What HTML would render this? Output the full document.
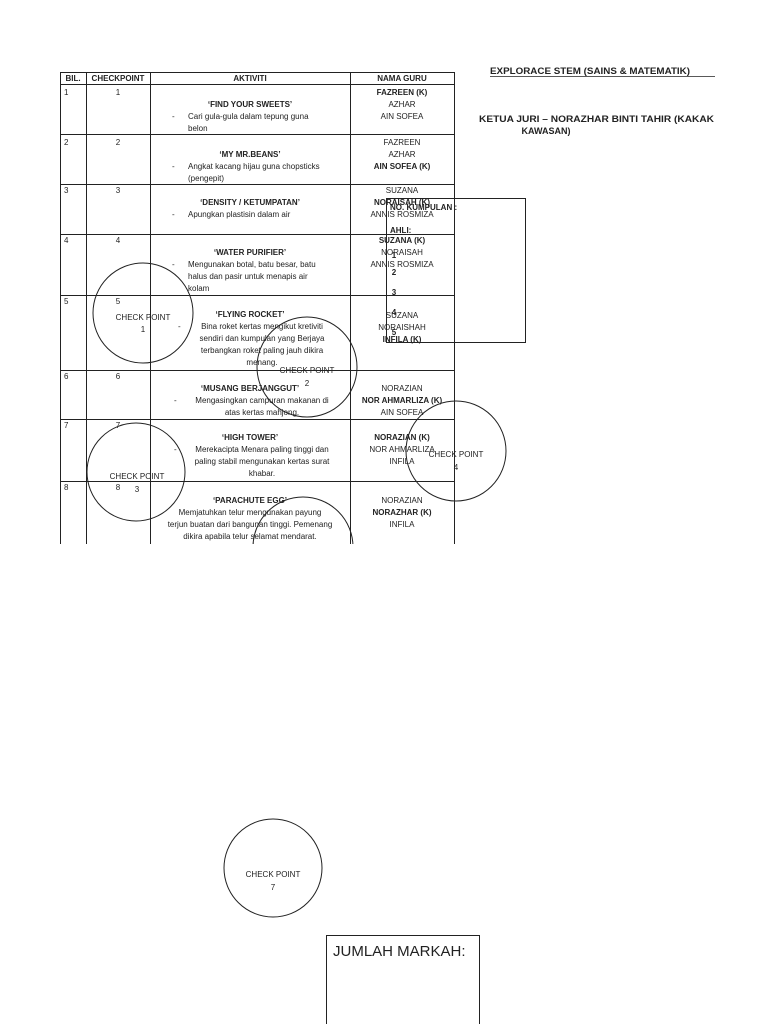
<!DOCTYPE html>
<html><head><meta charset="utf-8"><style>
html,body{margin:0;padding:0;background:#fff;}
svg{display:block;}
text{font-family:"Liberation Sans",sans-serif;font-size:8px;fill:#222;}
.b{font-weight:bold;}
</style></head><body>
<svg width="768" height="1024" viewBox="0 0 768 1024" xmlns="http://www.w3.org/2000/svg">
<g stroke="#222" stroke-width="1" fill="none">
<line x1="60" y1="72.5" x2="454" y2="72.5"/>
<line x1="60" y1="84.5" x2="454" y2="84.5"/>
<line x1="60" y1="134.5" x2="454" y2="134.5"/>
<line x1="60" y1="184.5" x2="454" y2="184.5"/>
<line x1="60" y1="234.5" x2="454" y2="234.5"/>
<line x1="60" y1="295.5" x2="454" y2="295.5"/>
<line x1="60" y1="370.5" x2="454" y2="370.5"/>
<line x1="60" y1="419.5" x2="454" y2="419.5"/>
<line x1="60" y1="481.5" x2="454" y2="481.5"/>
<line x1="60.5" y1="72" x2="60.5" y2="544"/>
<line x1="86.5" y1="72" x2="86.5" y2="544"/>
<line x1="150.5" y1="72" x2="150.5" y2="544"/>
<line x1="350.5" y1="72" x2="350.5" y2="544"/>
<line x1="454.5" y1="72" x2="454.5" y2="544"/>
<rect x="386.5" y="198.5" width="139" height="144"/>
<circle cx="143" cy="313" r="50"/>
<circle cx="307" cy="367" r="50"/>
<circle cx="136" cy="472" r="49"/>
<circle cx="456" cy="451" r="50"/>
<circle cx="303" cy="547" r="50"/>
<circle cx="273" cy="868" r="49"/>
<rect x="326.5" y="935.5" width="153" height="95"/>
</g>
<g text-anchor="middle">
<text x="73" y="81" class="b">BIL.</text><text x="118" y="81" class="b">CHECKPOINT</text><text x="250" y="81" class="b">AKTIVITI</text><text x="402" y="81" class="b">NAMA GURU</text>
<text x="402" y="95" class="b">FAZREEN (K)</text><text x="402" y="107">AZHAR</text><text x="402" y="119">AIN SOFEA</text>
<text x="402" y="145">FAZREEN</text><text x="402" y="157">AZHAR</text><text x="402" y="169" class="b">AIN SOFEA (K)</text>
<text x="402" y="193">SUZANA</text><text x="402" y="205" class="b">NORAISAH (K)</text><text x="402" y="217">ANNIS ROSMIZA</text>
<text x="402" y="243" class="b">SUZANA (K)</text><text x="402" y="255">NORAISAH</text><text x="402" y="267">ANNIS ROSMIZA</text>
<text x="402" y="318">SUZANA</text><text x="402" y="330">NORAISHAH</text><text x="402" y="342" class="b">INFILA (K)</text>
<text x="402" y="391">NORAZIAN</text><text x="402" y="403" class="b">NOR AHMARLIZA (K)</text><text x="402" y="415">AIN SOFEA</text>
<text x="402" y="440" class="b">NORAZIAN (K)</text><text x="402" y="452">NOR AHMARLIZA</text><text x="402" y="464">INFILA</text>
<text x="402" y="503">NORAZIAN</text><text x="402" y="515" class="b">NORAZHAR (K)</text><text x="402" y="527">INFILA</text>
<text x="250" y="107" class="b">‘FIND YOUR SWEETS’</text>
<text x="250" y="157" class="b">‘MY MR.BEANS’</text>
<text x="250" y="205" class="b">‘DENSITY / KETUMPATAN’</text>
<text x="250" y="255" class="b">‘WATER PURIFIER’</text>
<text x="250" y="317" class="b">‘FLYING ROCKET’</text>
<text x="250" y="391" class="b">‘MUSANG BERJANGGUT’</text>
<text x="250" y="440" class="b">‘HIGH TOWER’</text>
<text x="250" y="503" class="b">‘PARACHUTE EGG’</text>
<text x="262" y="329">Bina roket kertas mengikut kretiviti</text>
<text x="262" y="341">sendiri dan kumpulan yang Berjaya</text>
<text x="262" y="353">terbangkan roket paling jauh dikira</text>
<text x="262" y="365">menang.</text>
<text x="262" y="403">Mengasingkan campuran makanan di</text>
<text x="262" y="415">atas kertas mahjong.</text>
<text x="262" y="452">Merekacipta Menara paling tinggi dan</text>
<text x="262" y="464">paling stabil mengunakan kertas surat</text>
<text x="262" y="476">khabar.</text>
<text x="250" y="515">Memjatuhkan telur mengunakan payung</text>
<text x="250" y="527">terjun buatan dari bangunan tinggi. Pemenang</text>
<text x="250" y="539">dikira apabila telur selamat mendarat.</text>
<text x="118" y="95">1</text><text x="118" y="145">2</text><text x="118" y="193">3</text><text x="118" y="243">4</text><text x="118" y="304">5</text><text x="118" y="379">6</text><text x="118" y="428">7</text><text x="118" y="490">8</text>
<text x="143" y="320">CHECK POINT</text><text x="143" y="332">1</text>
<text x="307" y="373">CHECK POINT</text><text x="307" y="386">2</text>
<text x="137" y="479">CHECK POINT</text><text x="137" y="492">3</text>
<text x="456" y="457">CHECK POINT</text><text x="456" y="470">4</text>
<text x="273" y="877">CHECK POINT</text><text x="273" y="890">7</text>
<text x="546" y="134" class="b" style="font-size:9px">KAWASAN)</text>
<text x="394" y="258" class="b">1</text><text x="394" y="275" class="b">2</text><text x="394" y="295" class="b">3</text><text x="394" y="315" class="b">4</text><text x="394" y="335" class="b">5</text>
</g>
<text x="479" y="122" class="b" style="font-size:9px" textLength="235" lengthAdjust="spacingAndGlyphs">KETUA JURI – NORAZHAR BINTI TAHIR (KAKAK</text>
<text x="64" y="95">1</text><text x="64" y="145">2</text><text x="64" y="193">3</text><text x="64" y="243">4</text><text x="64" y="304">5</text><text x="64" y="379">6</text><text x="64" y="428">7</text><text x="64" y="490">8</text>
<text x="172" y="119">-</text><text x="188" y="119">Cari gula-gula dalam tepung guna</text><text x="188" y="131">belon</text>
<text x="172" y="169">-</text><text x="188" y="169">Angkat kacang hijau guna chopsticks</text><text x="188" y="181">(pengepit)</text>
<text x="172" y="217">-</text><text x="188" y="217">Apungkan plastisin dalam air</text>
<text x="172" y="267">-</text><text x="188" y="267">Mengunakan botal, batu besar, batu</text><text x="188" y="279">halus dan pasir untuk menapis air</text><text x="188" y="291">kolam</text>
<text x="178" y="329">-</text><text x="174" y="403">-</text><text x="174" y="452">-</text>
<text x="390" y="210" class="b">NO. KUMPULAN :</text>
<text x="390" y="233" class="b">AHLI:</text>
<text x="490" y="74" class="b" style="font-size:9px" textLength="200" lengthAdjust="spacingAndGlyphs">EXPLORACE STEM (SAINS &amp; MATEMATIK)</text>
<line x1="490" y1="76.5" x2="715" y2="76.5" stroke="#222" stroke-width="0.8"/>
<rect x="0" y="544" width="768" height="260" fill="#fff"/>
<text x="333" y="956" style="font-size:15px">JUMLAH MARKAH:</text>
</svg>
</body></html>
